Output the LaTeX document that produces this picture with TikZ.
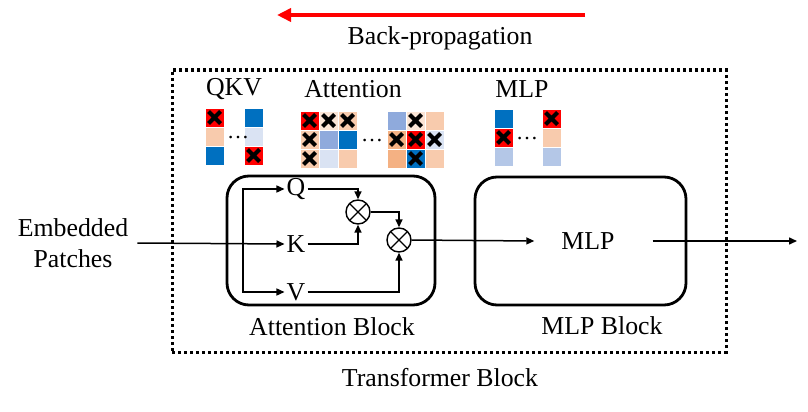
\documentclass[tikz,border=0pt]{standalone}
\usepackage{fontspec}
\setmainfont{Liberation Serif}
\usetikzlibrary{arrows.meta,calc}
\definecolor{cred}{HTML}{FF0000}
\definecolor{dblue}{HTML}{0070C0}
\definecolor{mblue}{HTML}{8FAADC}
\definecolor{pblue}{HTML}{B4C7E7}
\definecolor{lblue}{HTML}{DAE3F3}
\definecolor{peach}{HTML}{F8CBAD}
\definecolor{lpeach}{HTML}{FBE5D6}
\definecolor{dpeach}{HTML}{F4B183}
\newcommand{\gcell}[3]{\fill[#3,draw=white,line width=0.6pt] (#1,#2) rectangle ++(19,19);}
\newcommand{\gx}[2]{\draw[line width=4.2pt,black] ($(#1,#2)+(3.5,3.5)$) -- ++(12,12) ($(#1,#2)+(15.5,3.5)$) -- ++(-12,12);}
\begin{document}
\begin{tikzpicture}[x=1pt,y=-1pt,
  lbl/.style={font=\fontsize{25.8}{31}\selectfont, inner sep=2pt},
  arr/.style={line width=1.5pt, -{Triangle[length=8pt,width=7pt]}},
  block/.style={draw, line width=2.8pt, rounded corners=22pt},
  mult/.style={circle, draw, line width=1.4pt, minimum size=24pt, inner sep=0pt,
    path picture={\draw[line width=1.4pt] (path picture bounding box.north west) -- (path picture bounding box.south east)
      (path picture bounding box.north east) -- (path picture bounding box.south west);}},
  dotsnode/.style={font=\fontsize{22}{22}\selectfont, inner sep=0pt}
]
\useasboundingbox (0,0) rectangle (808,412);
% back-propagation arrow
\coordinate (bpS) at (585,15);
\coordinate (bpE) at (277,15);
\draw[cred, line width=4pt, -{Triangle[length=14pt,width=13pt]}] (bpS) -- (bpE);
\node[lbl] (bp) at (440,38) {Back-propagation};
% transformer block
\node[draw, line width=3pt, dash pattern=on 3pt off 3pt, minimum width=554pt, minimum height=282pt, inner sep=0pt] (tb) at (449,211) {};
\node[lbl] (tbl) at (440,378) {Transformer Block};
% headers
\node[lbl] (hqkv) at (234,89) {QKV};
\node[lbl] (hatt) at (353,89) {Attention};
\node[lbl] (hmlp) at (522,89) {MLP};
% QKV cells
\gcell{205}{108}{cred}\gx{205}{108}
\gcell{205}{127}{peach}
\gcell{205}{146}{dblue}
\gcell{244}{108}{dblue}
\gcell{244}{127}{lblue}
\gcell{244}{146}{cred}\gx{244}{146}
\node[dotsnode] (d1) at (238,138) {…};
% Attention left grid
\gcell{300}{111}{cred}\gx{300}{111}
\gcell{319}{111}{lpeach}\gx{319}{111}
\gcell{338}{111}{peach}\gx{338}{111}
\gcell{300}{130}{peach}\gx{300}{130}
\gcell{319}{130}{mblue}
\gcell{338}{130}{dblue}
\gcell{300}{149}{peach}\gx{300}{149}
\gcell{319}{149}{lblue}
\gcell{338}{149}{peach}
\node[dotsnode] (d2) at (372,141) {…};
% Attention right grid
\gcell{387}{111}{mblue}
\gcell{406}{111}{lpeach}\gx{406}{111}
\gcell{425}{111}{peach}
\gcell{387}{130}{dpeach}\gx{387}{130}
\gcell{406}{130}{cred}\gx{406}{130}
\gcell{425}{130}{lblue}\gx{425}{130}
\gcell{387}{149}{dpeach}
\gcell{406}{149}{dblue}\gx{406}{149}
\gcell{425}{149}{peach}
% MLP cells
\gcell{494}{109}{dblue}
\gcell{494}{128}{cred}\gx{494}{128}
\gcell{494}{147}{pblue}
\gcell{542}{109}{cred}\gx{542}{109}
\gcell{542}{128}{peach}
\gcell{542}{147}{pblue}
\node[dotsnode] (d3) at (527,139) {…};
% blocks
\node[block, minimum width=208pt, minimum height=129pt] (attb) at (331,240.5) {};
\node[block, minimum width=211pt, minimum height=128pt] (mlpb) at (580.5,241) {};
\node[lbl] (attl) at (332,327) {Attention Block};
\node[lbl] (mlpl) at (602,326) {MLP Block};
% inner nodes
\node[lbl, align=center, inner xsep=9pt] (emb) at (73,243) {Embedded\\Patches};
\node[lbl] (Q) at (296,189) {Q};
\node[lbl] (K) at (296,244) {K};
\node[lbl] (V) at (296,292) {V};
\node[mult] (m1) at (358,212) {};
\node[mult] (m2) at (399,240) {};
\node[lbl, inner xsep=0pt] (mlp) at (588,241) {MLP};
\coordinate (br) at (243,243);
\coordinate (out) at (797,241);
% connectors
\draw[arr] (emb.east) -- (K.west);
\draw[arr] (br) |- (Q.west);
\draw[arr] (br) |- (V.west);
\draw[arr] (Q.east) -| (m1.north);
\draw[arr] (K.east) -| (m1.south);
\draw[arr] (m1.east) -| (m2.north);
\draw[arr] (V.east) -| (m2.south);
\draw[arr] (m2.east) -- ([xshift=-27pt]mlp.west);
\draw[arr] ([xshift=38pt]mlp.east) -- (out);
\end{tikzpicture}
\end{document}
